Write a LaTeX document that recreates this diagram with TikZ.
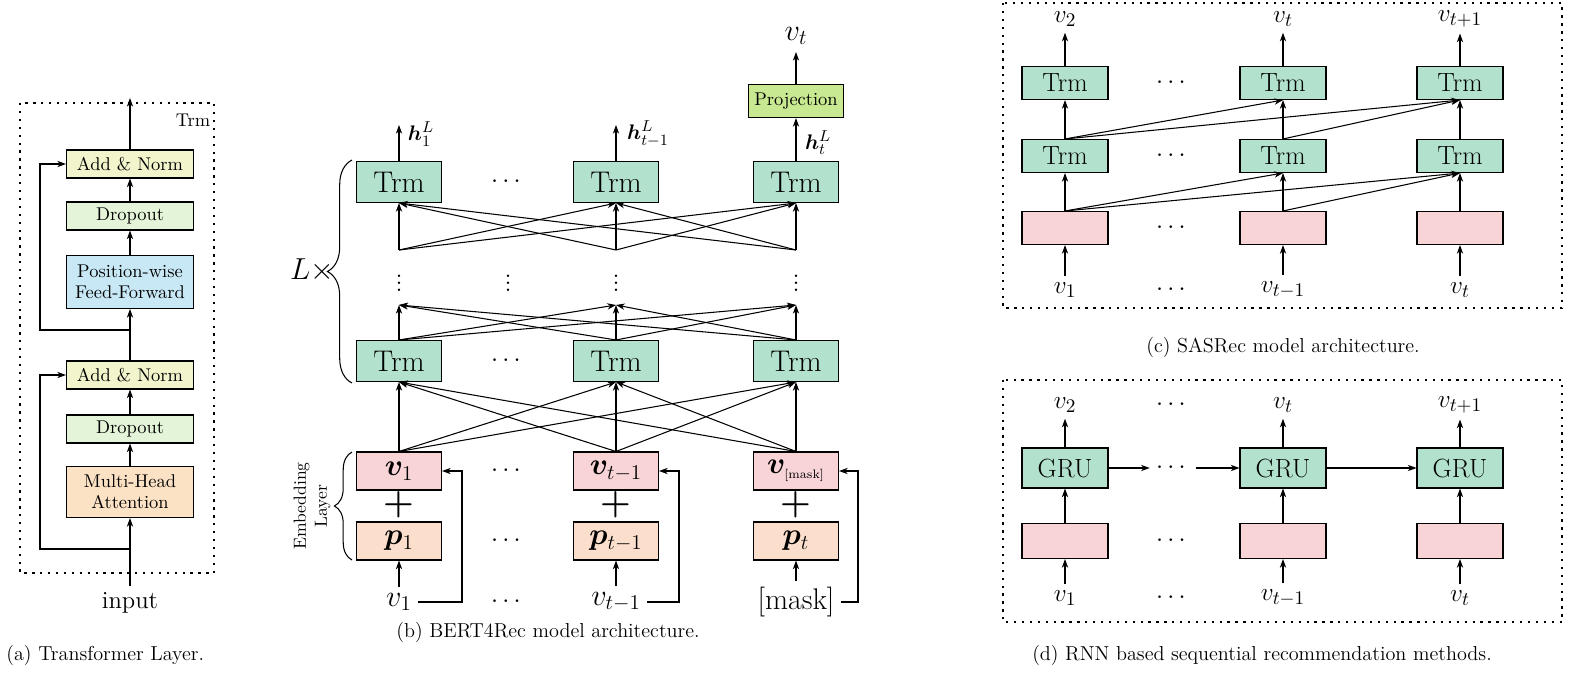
\documentclass[tikz,border=0pt]{standalone}
\usepackage{amsmath}
\usepackage{bm}
\usetikzlibrary{arrows.meta,decorations.pathreplacing}
\definecolor{trm}{RGB}{178,226,205}
\definecolor{vpink}{RGB}{248,212,215}
\definecolor{ppeach}{RGB}{252,222,204}
\definecolor{proj}{RGB}{200,232,145}
\definecolor{addn}{RGB}{242,244,204}
\definecolor{drop}{RGB}{228,244,216}
\definecolor{ffb}{RGB}{200,232,246}
\definecolor{mha}{RGB}{252,226,196}
\begin{document}
\begin{tikzpicture}[x=0.02cm,y=-0.02cm,
  >={Stealth[length=5pt,width=3.6pt]},
  line width=0.6pt,
  ab/.style={draw,minimum width=2.54cm,inner sep=1pt,font=\fontsize{10.5}{12}\selectfont,align=center},
  bb/.style={draw,minimum width=1.7cm,minimum height=0.82cm,font=\fontsize{17}{20}\selectfont},
  cb/.style={draw,minimum width=1.72cm,minimum height=0.66cm,font=\fontsize{15}{18}\selectfont},
  ml/.style={font=\fontsize{17}{20}\selectfont},
  cl/.style={font=\fontsize{15}{18}\selectfont},
  captxt/.style={font=\fontsize{11.5}{14}\selectfont},
  dbox/.style={line width=1.3pt,dash pattern=on 1.3pt off 3.2pt},
  hdots/.style={font=\fontsize{15}{18}\selectfont}]
\useasboundingbox (0,0) rectangle (1569,673);
% ---------------- (a)
\draw[dbox] (20,103) rectangle (214,573);
\node[ab,fill=addn,minimum height=0.56cm] (an2) at (130,164) {Add \& Norm};
\node[ab,fill=drop,minimum height=0.56cm] (dr2) at (130,216) {Dropout};
\node[ab,fill=ffb,minimum height=1.06cm] (ff) at (130,282) {Position-wise\\Feed-Forward};
\node[ab,fill=addn,minimum height=0.56cm] (an1) at (130,375) {Add \& Norm};
\node[ab,fill=drop,minimum height=0.56cm] (dr1) at (130,429) {Dropout};
\node[ab,fill=mha,minimum height=1.02cm] (mh) at (130,492) {Multi-Head\\Attention};
\node[font=\fontsize{14}{16}\selectfont] (inp) at (130,603) {input};
\node[font=\fontsize{10.5}{12}\selectfont] (trmlab) at (193,120) {Trm};
\coordinate (top) at (130,98);
\coordinate (s1) at (130,549);
\coordinate (s2) at (130,330);
\draw[->] (inp.north) -- (mh.south);
\draw[->] (mh) -- (dr1);
\draw[->] (dr1) -- (an1);
\draw[->] (an1.north) -- (ff.south);
\draw[->] (ff) -- (dr2);
\draw[->] (dr2) -- (an2);
\draw[->] (an2.north) -- (top);
\draw[->] (s1) -- (40,549) |- (an1.west);
\draw[->] (s2) -- (40,330) |- (an2.west);
\node[captxt,anchor=west] (capa) at (0,655) {(a) Transformer Layer.};
% ---------------- (b)
\foreach \n/\x in {1/399,2/616,3/796}{
  \node[bb,fill=trm] (t\n) at (\x,182) {Trm};
  \node[bb,fill=trm] (l\n) at (\x,361) {Trm};
  \coordinate (du\n) at (\x,250);
  \coordinate (dd\n) at (\x,305);
  \node[font=\fontsize{17}{20}\selectfont] (vd\n) at (\x,278) {$\vdots$};
}
\node[font=\fontsize{17}{20}\selectfont] (vd0) at (508,278) {$\vdots$};
\node[bb,fill=vpink,minimum height=0.76cm] (e1) at (399,471) {$\bm{v}_1$};
\node[bb,fill=vpink,minimum height=0.76cm] (e2) at (616,471) {$\bm{v}_{t-1}$};
\node[bb,fill=vpink,minimum height=0.76cm] (e3) at (796,471) {$\bm{v}_{\text{\fontsize{7}{8}\selectfont[mask]}}$};
\node[bb,fill=ppeach,minimum height=0.76cm] (p1) at (399,541) {$\bm{p}_1$};
\node[bb,fill=ppeach,minimum height=0.76cm] (p2) at (616,541) {$\bm{p}_{t-1}$};
\node[bb,fill=ppeach,minimum height=0.76cm] (p3) at (796,541) {$\bm{p}_t$};
\foreach \n/\x in {1/399,2/616,3/796}{\node[font=\fontsize{20}{20}\selectfont\bfseries] (plus\n) at (\x,505) {+};}
\node[ml] (i1) at (399,602) {$v_1$};
\node[ml] (i2) at (616,602) {$v_{t-1}$};
\node[ml] (i3) at (796,602) {[mask]};
\foreach \n/\rx in {1/462,2/679,3/858}{
  \draw[->] (i\n.north) -- (p\n.south);
  \draw[->] (i\n.east) -- (\rx,602) |- (e\n.east);
}
\foreach \y/\k in {182/a,361/b,471/c,541/d,602/e}{\node[hdots] (hd\k) at (508,\y) {$\cdots$};}
\foreach \i in {1,2,3}{\foreach \j in {1,2,3}{
  \draw[->] (e\i.north) -- (l\j.south);
  \draw[->] (l\i.north) -- (dd\j);
  \draw[->] (du\i) -- (t\j.south);
}}
\node[draw,fill=proj,minimum width=1.72cm,minimum height=0.66cm,font=\fontsize{10.5}{12}\selectfont] (pj) at (796,101) {Projection};
\coordinate (o1) at (399,125);
\coordinate (o2) at (616,125);
\coordinate (o4) at (796,52);
\draw[->] (t1.north) -- (o1);
\draw[->] (t2.north) -- (o2);
\draw[->] (t3.north) -- (pj.south);
\draw[->] (pj.north) -- (o4);
\node[ml] (vt) at (796,36) {$v_t$};
\node[font=\fontsize{13}{15}\selectfont] (h1) at (421,134) {$\bm{h}_1^L$};
\node[font=\fontsize{13}{15}\selectfont] (h2) at (648,134) {$\bm{h}_{t-1}^L$};
\node[font=\fontsize{13}{15}\selectfont] (h3) at (818,143) {$\bm{h}_t^L$};
\draw[decorate,decoration={brace,amplitude=14pt},line width=0.6pt] (352,383) -- (352,160);
\node[ml] (Lx) at (312,270) {$L\times$};
\draw[decorate,decoration={brace,amplitude=10pt},line width=0.6pt] (352,560) -- (352,452);
\node[rotate=90,align=center,font=\fontsize{10}{12}\selectfont] (emb) at (312,506) {Embedding\\Layer};
\node[captxt] (capb) at (548,632) {(b) BERT4Rec model architecture.};
% ---------------- (c)
\draw[dbox] (1003,3) rectangle (1562,308);
\foreach \n/\x/\a/\b in {1/1065/v_2/v_1,2/1283/v_t/v_{t-1},3/1460/v_{t+1}/v_t}{
  \node[cb,fill=trm] (ct\n) at (\x,83) {Trm};
  \node[cb,fill=trm] (cm\n) at (\x,156) {Trm};
  \node[cb,fill=vpink] (ce\n) at (\x,228) {};
  \node[cl] (co\n) at (\x,19) {$\a$};
  \node[cl] (ci\n) at (\x,290) {$\b$};
  \draw[->] (ct\n.north) -- (co\n.south);
  \draw[->] (ci\n.north) -- (ce\n.south);
  \draw[->] (ce\n) -- (cm\n);
  \draw[->] (cm\n) -- (ct\n);
}
\foreach \y/\k in {83/a,156/b,228/c,290/d}{\node[hdots] (cd\k) at (1173,\y) {$\cdots$};}
\foreach \i/\j in {1/2,1/3,2/3}{
  \draw[->] (ce\i.north) -- (cm\j.south);
  \draw[->] (cm\i.north) -- (ct\j.south);
}
\node[captxt] (capc) at (1283,347) {(c) SASRec model architecture.};
% ---------------- (d)
\draw[dbox] (1003,380) rectangle (1562,622);
\foreach \n/\x/\a/\b in {1/1065/v_2/v_1,2/1283/v_t/v_{t-1},3/1460/v_{t+1}/v_t}{
  \node[cb,fill=trm,minimum height=0.8cm] (g\n) at (\x,468) {GRU};
  \node[cb,fill=vpink,minimum height=0.7cm] (ge\n) at (\x,541) {};
  \node[cl] (go\n) at (\x,405) {$\a$};
  \node[cl] (gi\n) at (\x,598) {$\b$};
  \draw[->] (g\n.north) -- (go\n.south);
  \draw[->] (gi\n.north) -- (ge\n.south);
  \draw[->] (ge\n) -- (g\n);
}
\foreach \y/\k in {405/a,468/b,541/c,598/d}{\node[hdots] (gd\k) at (1173,\y) {$\cdots$};}
\draw[->] (g1.east) -- (gdb.west);
\draw[->] (gdb.east) -- (g2.west);
\draw[->] (g2.east) -- (g3.west);
\node[captxt] (capd) at (1262,655) {(d) RNN based sequential recommendation methods.};
\end{tikzpicture}
\end{document}
